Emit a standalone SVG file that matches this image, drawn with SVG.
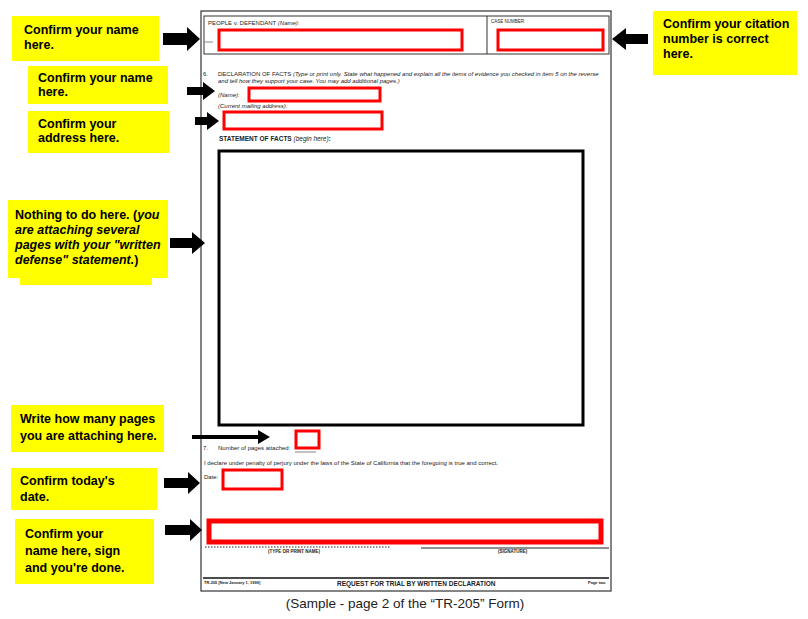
<svg xmlns="http://www.w3.org/2000/svg" width="808" height="619" viewBox="0 0 808 619">
<style>
.y{fill:#ffff00}
.t{font-family:"Liberation Sans",Arial,sans-serif;font-weight:bold;font-size:12.5px;fill:#000}
.f{font-family:"Liberation Sans",Arial,sans-serif;font-size:6px;fill:#222}
.fb{font-family:"Liberation Sans",Arial,sans-serif;font-size:6.5px;font-weight:bold;fill:#222}
.r{fill:none;stroke:#f00;stroke-width:3}
.a{fill:#000}
</style>
<rect width="808" height="619" fill="#fff"/>
<g id="form">
<rect x="201" y="11" width="410" height="580" fill="#fff" stroke="#333" stroke-width="1.2"/>
<rect x="204" y="16" width="405" height="38" fill="none" stroke="#333" stroke-width="1"/>
<line x1="487" y1="16" x2="487" y2="54" stroke="#333"/>
<line x1="205" y1="42" x2="213" y2="42" stroke="#333" stroke-width="0.6"/>
<text class="f" x="208" y="25">PEOPLE v. DEFENDANT <tspan font-style="italic">(Name)</tspan>:</text>
<text class="f" x="491" y="23" style="font-size:4.5px">CASE NUMBER:</text>
<text class="f" x="203" y="76">6.</text>
<text class="f" x="218" y="76">DECLARATION OF FACTS <tspan font-style="italic">(Type or print only. State what happened and explain all the items of evidence you checked in item 5 on the reverse</tspan></text>
<text class="f" x="218" y="83" font-style="italic">and tell how they support your case. You may add additional pages.)</text>
<text class="f" x="218" y="97" font-style="italic">(Name):</text>
<text class="f" x="218" y="108" font-style="italic">(Current mailing address):</text>
<text class="fb" x="219" y="141">STATEMENT OF FACTS <tspan font-weight="normal" font-style="italic">(begin here)</tspan>:</text>
<rect x="219" y="151" width="364" height="274" fill="none" stroke="#000" stroke-width="3"/>
<text class="f" x="203" y="450">7.</text>
<text class="f" x="218" y="450">Number of pages attached:</text>
<line x1="295" y1="452" x2="316" y2="452" stroke="#333" stroke-width="0.6"/>
<text class="f" x="204" y="465">I declare under penalty of perjury under the laws of the State of California that the foregoing is true and correct.</text>
<text class="f" x="204" y="479">Date:</text>
<line x1="205" y1="547" x2="390" y2="547" stroke="#222" stroke-width="1" stroke-dasharray="1.5,1.5"/>
<line x1="421" y1="548" x2="609" y2="548" stroke="#222" stroke-width="1"/>
<text class="fb" x="268" y="553" style="font-size:4.5px">(TYPE OR PRINT NAME)</text>
<text class="fb" x="498" y="553" style="font-size:4.5px">(SIGNATURE)</text>
<line x1="203" y1="578" x2="609" y2="578" stroke="#111" stroke-width="1.5"/>
<text class="fb" x="204" y="584" style="font-size:4px">TR-205 [New January 1, 1999]</text>
<text class="fb" x="337" y="586">REQUEST FOR TRIAL BY WRITTEN DECLARATION</text>
<text class="fb" x="588" y="584" style="font-size:4px">Page two</text>
</g>
<g id="fields">
<rect class="r" x="219" y="30" width="243" height="20"/>
<rect class="r" x="498" y="30" width="105" height="20"/>
<rect class="r" x="249" y="88" width="131" height="13"/>
<rect class="r" x="224" y="112" width="158" height="17"/>
<rect class="r" x="296" y="431" width="23" height="17"/>
<rect class="r" x="223" y="470" width="59" height="19"/>
<rect x="209" y="521" width="392" height="21" fill="none" stroke="#f00" stroke-width="5"/>
</g>
<g id="notes">
<g id="n1"><rect class="y" x="12" y="16" width="147" height="45"/><text class="t" x="24" y="34">Confirm your name</text><text class="t" x="24" y="49">here.</text></g>
<g id="n2"><rect class="y" x="28" y="66" width="140" height="38"/><text class="t" x="38" y="82">Confirm your name</text><text class="t" x="38" y="96">here.</text></g>
<g id="n3"><rect class="y" x="28" y="111" width="141" height="42"/><text class="t" x="38" y="128">Confirm your</text><text class="t" x="38" y="142">address here.</text></g>
<g id="n4"><rect class="y" x="8" y="200" width="160" height="78"/><rect class="y" x="20" y="270" width="132" height="15"/>
<text class="t" x="15" y="219">Nothing to do here.  (<tspan font-style="italic">you</tspan></text>
<text class="t" x="15" y="234" font-style="italic">are attaching several</text>
<text class="t" x="15" y="249" font-style="italic">pages with your "written</text>
<text class="t" x="15" y="264"><tspan font-style="italic">defense" statement.</tspan>)</text></g>
<g id="n5"><rect class="y" x="11" y="405" width="153" height="47"/><text class="t" x="20" y="423">Write how many pages</text><text class="t" x="20" y="440">you are attaching here.</text></g>
<g id="n6"><rect class="y" x="11" y="468" width="146" height="42"/><text class="t" x="20" y="485">Confirm today's</text><text class="t" x="20" y="501">date.</text></g>
<g id="n7"><rect class="y" x="15" y="519" width="139" height="65"/><text class="t" x="25" y="538">Confirm your</text><text class="t" x="25" y="555">name here, sign</text><text class="t" x="25" y="572">and you're done.</text></g>
<g id="n8"><rect class="y" x="653" y="11" width="144" height="64"/><text class="t" x="663" y="28">Confirm your citation</text><text class="t" x="663" y="43">number is correct</text><text class="t" x="663" y="58">here.</text></g>
</g>
<g id="connectors">
<polygon class="a" points="163,33 187,33 187,27 200,39 187,51 187,45 163,45"/>
<polygon class="a" points="648,34 626,34 626,28 612,39 626,50 626,44 648,44"/>
<polygon class="a" points="187,87 203,87 203,82 215,91 203,100 203,95 187,95"/>
<polygon class="a" points="195,117 207,117 207,112 219,121 207,130 207,125 195,125"/>
<polygon class="a" points="170,238 192,238 192,232 205,243 192,254 192,248 170,248"/>
<polygon class="a" points="192,435 258,435 258,430 270,437 258,444 258,439 192,439"/>
<polygon class="a" points="164,478 188,478 188,472 200,483 188,494 188,488 164,488"/>
<polygon class="a" points="165,525 190,525 190,519 202,530 190,541 190,535 165,535"/>
</g>
<text x="405" y="608" text-anchor="middle" font-family="Liberation Sans,Arial,sans-serif" font-size="13.5" fill="#222">(Sample - page 2 of the “TR-205” Form)</text>
</svg>
